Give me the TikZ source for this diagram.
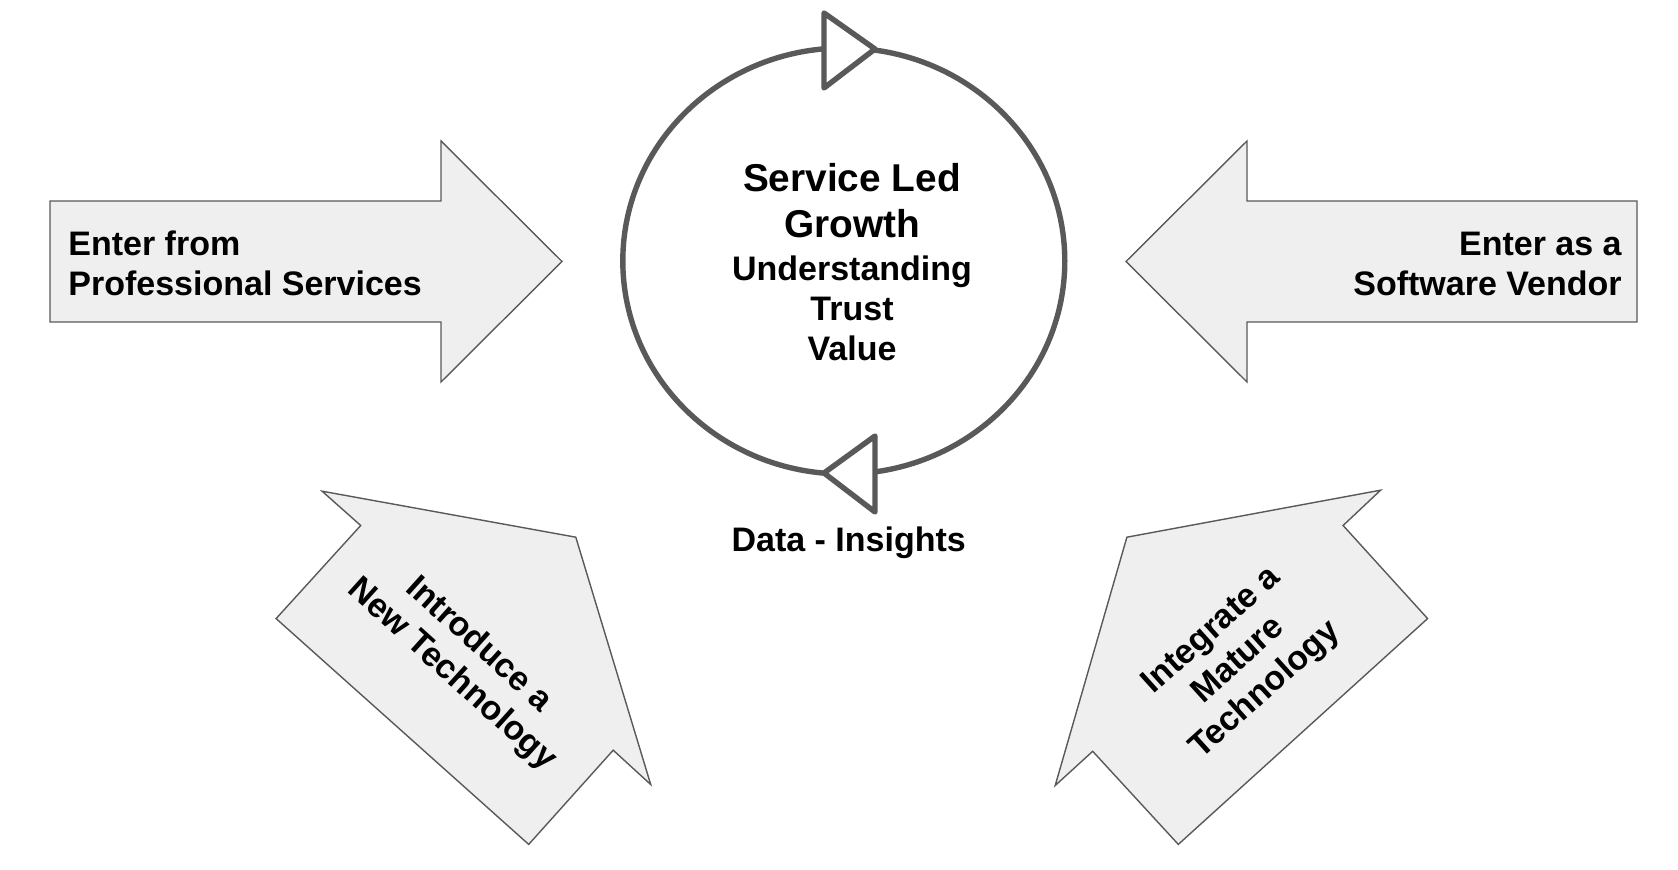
\documentclass[tikz,border=0pt]{standalone}
\usepackage{fontspec}
\setmainfont{Liberation Sans}
\usetikzlibrary{arrows.meta, positioning}
\definecolor{shapefill}{HTML}{EFEFEF}
\definecolor{shapeline}{HTML}{595959}

\begin{document}
\begin{tikzpicture}[x=0.5pt, y=-0.5pt, font=\fontsize{17}{20}\selectfont\bfseries,
  block/.style={fill=shapefill, draw=shapeline, line width=0.7pt},
  ring/.style={draw=shapeline, line width=2.7pt},
  ringtip/.style={ring, fill=white, line join=round},
  label/.style={inner sep=0pt, align=center}]
  \useasboundingbox (0,0) rectangle (1678,870);

  % Entry arrows from the sides
  \draw[block] (50,201) -- (441,201) -- (441,141) -- (562,261.5) -- (441,382) -- (441,322) -- (50,322) -- cycle;
  \draw[block] (1637,201) -- (1247,201) -- (1247,141) -- (1126,261.5) -- (1247,382) -- (1247,322) -- (1637,322) -- cycle;
  \node[label, anchor=west, align=left] (prof) at (68,263.8) {Enter from\\Professional Services};
  \node[label, anchor=east, align=right] (vendor) at (1622,263.8) {Enter as a\\Software Vendor};

  % Entry arrows from below
  \draw[block] (322.1,491.2) -- (575.8,537.2) -- (650.7,784.5) -- (613.2,750.2) -- (528.7,844.4) -- (276.1,618.6) -- (360.7,525.5) -- cycle;
  \draw[block] (1380.6,490.2) -- (1126.9,537.2) -- (1055.2,785.5) -- (1092.7,751.3) -- (1178.3,844.4) -- (1427.6,618.6) -- (1343.1,525.5) -- cycle;
  \node[label, rotate=-42] (newtech) at (465,660) {Introduce a\\New Technology};
  \node[label, rotate=42] (maturetech) at (1239,661) {Integrate a\\Mature\\Technology};

  % The growth cycle
  \draw[ring] (843.8,261) ellipse [x radius=110.5pt, y radius=106.5pt];
  \draw[ringtip] (824,13) -- (875,49) -- (824,88) -- cycle;
  \draw[ringtip] (875,436) -- (824,473) -- (875,512) -- cycle;
  \node[label, font=\fontsize{19.4}{23}\selectfont\bfseries] (growth) at (852,200.7) {Service Led\\Growth};
  \node[label] (values) at (852,308.2) {Understanding\\Trust\\Value};
  \node[label, anchor=base] (data) at (848.7,551.6) {Data - Insights};
\end{tikzpicture}
\end{document}
